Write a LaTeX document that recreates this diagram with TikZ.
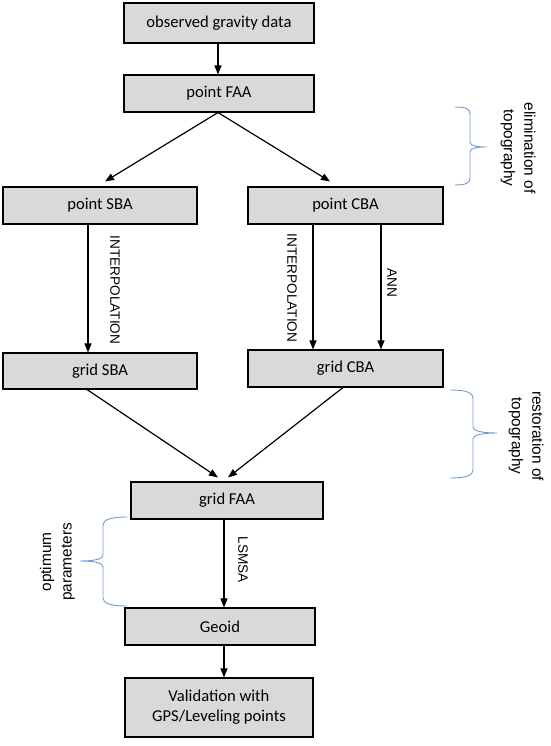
\documentclass[tikz,border=0pt]{standalone}
\usepackage{fontspec}
\setmainfont{Carlito}
\newfontfamily\labelfont{Liberation Sans}
\usepackage{tikz}
\usetikzlibrary{arrows.meta, positioning}
\usepackage{xcolor}
\definecolor{boxgray}{RGB}{217,217,217}
\definecolor{braceblue}{RGB}{110,155,215}

\begin{document}
\begin{tikzpicture}[
x=1pt, y=1pt,
box/.style={draw,
rectangle,
fill=boxgray,
line width=1.1pt,
inner sep=0pt,
minimum height=37pt,
align=center,
font=\fontsize{16.6}{20}\selectfont},
arrow/.style={-{Triangle[length=9pt,width=7pt]}, line width=1.2pt},
vlabel/.style={font=\labelfont\fontsize{13.6}{16}\selectfont},
bracelabel/.style={font=\labelfont\fontsize{15.4}{20.5}\selectfont, align=center},
curly/.style={braceblue, line width=0.9pt}
]
\useasboundingbox (0,0) rectangle (550,746);

\node[box, minimum width=190pt, minimum height=40pt] (gravity) at (219,723) {observed gravity data};
\node[box, minimum width=190pt] (pointfaa) at (219,652.5) {point FAA};
\node[box, minimum width=194pt] (pointsba) at (100,540.5) {point SBA};
\node[box, minimum width=195pt] (pointcba) at (345.5,540.5) {point CBA};
\node[box, minimum width=194pt, minimum height=36pt] (gridsba) at (100,375) {grid SBA};
\node[box, minimum width=195pt] (gridcba) at (345.5,377.5) {grid CBA};
\node[box, minimum width=192pt] (gridfaa) at (227,245.5) {grid FAA};
\node[box, minimum width=190pt] (geoid) at (220,119.5) {Geoid};
\node[box, minimum width=188pt, minimum height=59pt] (valid) at (219,38.5) {Validation with\\GPS/Leveling points};

\draw[arrow] ([xshift=-1pt]gravity.south) -- ([xshift=-1pt]pointfaa.north);
\draw[arrow] ([xshift=-1pt]pointfaa.south) -- ([xshift=5pt, yshift=5pt]pointsba.north);
\draw[arrow] ([xshift=-1pt]pointfaa.south) -- ([xshift=-15.5pt, yshift=5pt]pointcba.north);
\draw[arrow] ([xshift=-12pt]pointsba.south) -- ([xshift=-12pt]gridsba.north);
\draw[arrow] ([xshift=-32.5pt]pointcba.south) -- ([xshift=-32.5pt]gridcba.north);
\draw[arrow] ([xshift=35.5pt]pointcba.south) -- ([xshift=35.5pt]gridcba.north);
\draw[arrow] ([xshift=-13pt]gridsba.south) -- ([xshift=-9pt, yshift=4pt]gridfaa.north);
\draw[arrow] ([xshift=-2.5pt]gridcba.south) -- ([xshift=1pt, yshift=4pt]gridfaa.north);
\draw[arrow] ([xshift=-3pt]gridfaa.south) -- ([xshift=4pt]geoid.north);
\draw[arrow] ([xshift=4pt]geoid.south) -- ([xshift=5pt]valid.north);

% labels on the arrows
\node[vlabel, rotate=-90] (interp1) at (115,456) {INTERPOLATION};
\node[vlabel, rotate=-90] (interp2) at (292,458) {INTERPOLATION};
\node[vlabel, rotate=-90] (ann) at (392,463) {ANN};
\node[vlabel, rotate=-90] (lsmsa) at (243,186) {LSMSA};

% braces
\draw[curly] (455,639) .. controls +(11,0) and +(0,5) .. (470,632) -- (470,604)
  .. controls +(0,-4) and +(-10,0) .. (487,599) .. controls +(-10,0) and +(0,4) .. (470,594)
  -- (470,568) .. controls +(0,-5) and +(11,0) .. (455,561);
\node[bracelabel, rotate=-90] (elim) at (518,598) {elimination of\\topography};
\draw[curly] (450,356) .. controls +(17,0) and +(0,5) .. (473,348) -- (473,319)
  .. controls +(0,-4) and +(-15,0) .. (497,313) .. controls +(-15,0) and +(0,4) .. (473,307)
  -- (473,276) .. controls +(0,-5) and +(17,0) .. (450,268);
\node[bracelabel, rotate=-90] (resto) at (526,310) {restoration of\\topography};
\draw[curly] (127,229) .. controls +(-17,0) and +(0,5) .. (103,221) -- (103,191)
  .. controls +(0,-4) and +(15,0) .. (80,185) .. controls +(15,0) and +(0,4) .. (103,179)
  -- (103,148) .. controls +(0,-5) and +(-17,0) .. (127,140);
\node[bracelabel, rotate=90] (optim) at (57.5,184) {optimum\\parameters};

\end{tikzpicture}
\end{document}
